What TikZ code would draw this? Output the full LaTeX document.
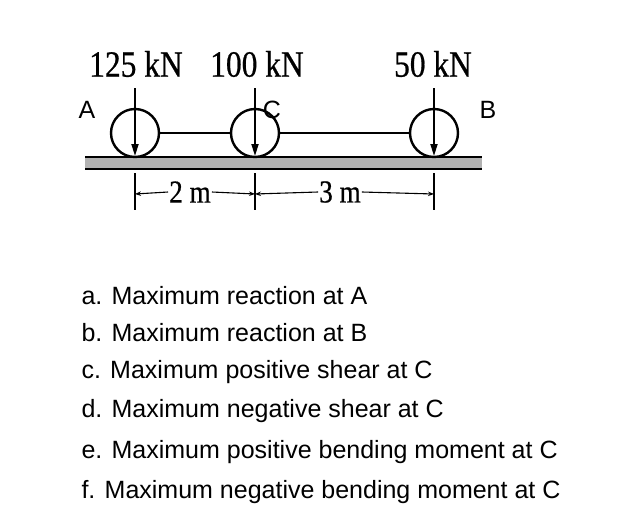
\documentclass[tikz,border=0pt]{standalone}
\usepackage{fontspec}
\setmainfont{Liberation Serif}
\newfontfamily\loadfont[FakeStretch=0.85,FakeBold=0.6]{Liberation Serif}
\newfontfamily\qfont{Liberation Sans}
\usetikzlibrary{arrows.meta}
\begin{document}
\begin{tikzpicture}[x=1pt,y=-1pt,
  wheel/.style={circle,draw,line width=2.4pt,minimum size=48pt,inner sep=0pt},
  load/.style={font=\loadfont\fontsize{37}{40}\selectfont},
  dim/.style={font=\loadfont\fontsize{32}{34}\selectfont,fill=white,inner sep=1pt},
  lab/.style={font=\qfont\fontsize{25}{28}\selectfont},
  q/.style={font=\qfont\fontsize{25}{29}\selectfont,anchor=west},
  arr/.style={line width=1.8pt,-{Triangle[length=12pt,width=7pt]}}]
\useasboundingbox (0,0) rectangle (638,528);
% ground
\fill[gray!60] (85,157) rectangle (482,169);
\draw[line width=1.2pt] (85,157) -- (482,157);
\draw[line width=1.2pt] (85,169) -- (482,169);
% wheels
\node[wheel] (wa) at (135,133) {};
\node[wheel] (wc) at (255,133) {};
\node[wheel] (wb) at (434,133) {};
\draw[line width=1.4pt] (wa.east) -- (wc.west);
\draw[line width=1.1pt] (wc.east) -- (wb.west);
% loads
\node[load] (la) at (136,64) {125 kN};
\node[load] (lc) at (257,64) {100 kN};
\node[load] (lb) at (433,64) {50 kN};
\coordinate (ta) at (135,88); \coordinate (ea) at (135,156);
\coordinate (tc) at (255,88); \coordinate (ec) at (255,156);
\coordinate (tb) at (434,88); \coordinate (eb) at (434,156);
\draw[arr] (ta) -- (ea);
\draw[arr] (tc) -- (ec);
\draw[arr] (tb) -- (eb);
\node[lab] (A) at (87,110) {A};
\node[lab] (C) at (272,110) {C};
\node[lab] (B) at (488,110) {B};
% dimensions
\coordinate (d0t) at (135,173); \coordinate (d0b) at (135,210);
\coordinate (d1t) at (255,173); \coordinate (d1b) at (255,210);
\coordinate (d2t) at (434,173); \coordinate (d2b) at (434,210);
\draw[line width=1.1pt] (d0t) -- (d0b) (d1t) -- (d1b) (d2t) -- (d2b);
\node[dim] (m2) at (190,192) {2 m};
\node[dim] (m3) at (340,192) {3 m};
\draw[line width=1.1pt,-{Stealth[length=6pt]}] (m2.west) -- (135,194);
\draw[line width=1.1pt,-{Stealth[length=6pt]}] (m2.east) -- (255,194);
\draw[line width=1.1pt,-{Stealth[length=6pt]}] (m3.west) -- (255,194);
\draw[line width=1.1pt,-{Stealth[length=6pt]}] (m3.east) -- (434,194);
% questions
\node[q] (qa) at (78,296) {a. Maximum reaction at A};
\node[q] (qb) at (78,333) {b. Maximum reaction at B};
\node[q] (qc) at (78,372) {c. Maximum positive shear at C};
\node[q] (qd) at (78,411) {d. Maximum negative shear at C};
\node[q] (qe) at (78,452) {e. Maximum positive bending moment at C};
\node[q] (qf) at (78,492) {f. Maximum negative bending moment at C};
\end{tikzpicture}
\end{document}
